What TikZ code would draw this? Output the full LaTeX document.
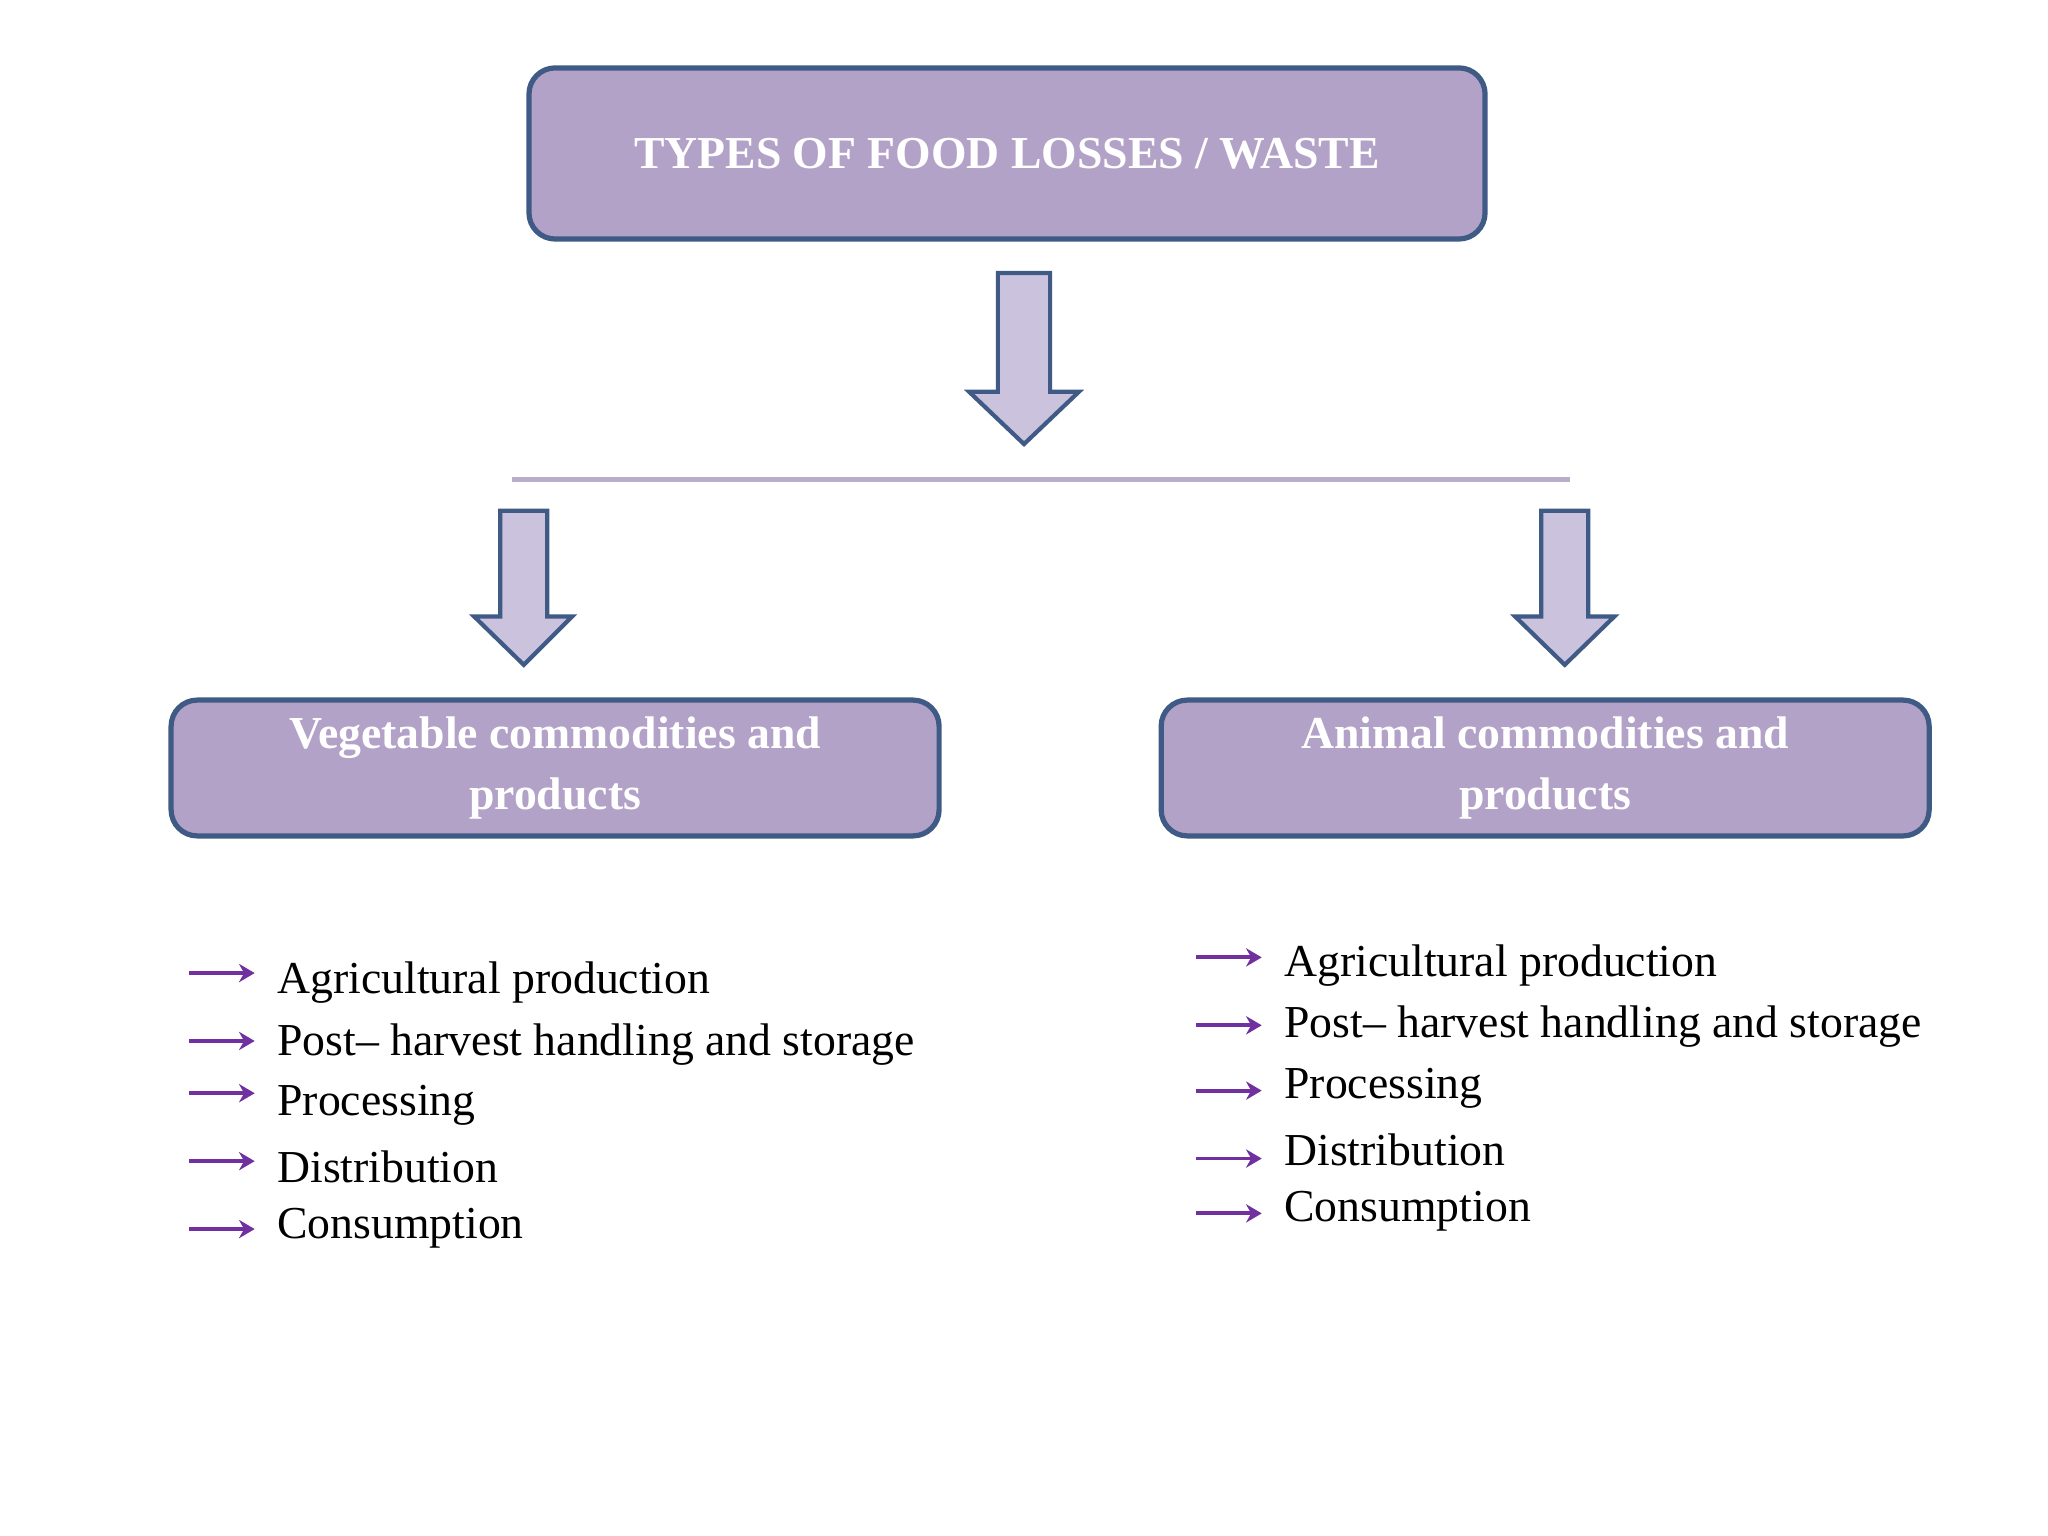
\documentclass[tikz,border=0pt]{standalone}
\usepackage{fontspec}
\setmainfont{Liberation Serif}
\usetikzlibrary{arrows.meta}
\definecolor{boxfill}{HTML}{B3A2C8}
\definecolor{navy}{HTML}{3F5A85}
\definecolor{arrfill}{HTML}{CBC3DD}
\definecolor{linec}{HTML}{B8ADCB}
\definecolor{purp}{HTML}{7030A0}
\tikzset{
  box/.style={draw=navy,line width=2pt,fill=boxfill,rounded corners=10pt,text=white,font=\fontsize{17.5}{23}\selectfont\bfseries,align=center},
  blockarr/.style={draw=navy,line width=1.6pt,fill=arrfill,line join=miter},
  item/.style={anchor=west,font=\fontsize{17.5}{20}\selectfont,inner sep=0pt},
  tick/.style={draw=purp,line width=1.5pt,-{Stealth[length=6pt,width=7pt]}}
}
\begin{document}
\begin{tikzpicture}[x=0.5pt,y=-0.5pt]
\useasboundingbox (0,0) rectangle (1568,1176);
\node[box,minimum width=366pt,minimum height=65.5pt] (title) at (771,117.5) {TYPES OF FOOD LOSSES / WASTE};
\draw[blockarr] (764,209) -- (804,209) -- (804,300) -- (826,300) -- (784,340) -- (742,300) -- (764,300) -- cycle;
\draw[linec,line width=2pt] (392,367) -- (1202,367);
\draw[blockarr] (383,391) -- (419,391) -- (419,472) -- (438,472) -- (401,509) -- (363,472) -- (383,472) -- cycle;
\draw[blockarr] (1180,391) -- (1216,391) -- (1216,472) -- (1236,472) -- (1198,509) -- (1160,472) -- (1180,472) -- cycle;
\node[box,minimum width=294pt,minimum height=52pt] (veg) at (425,588) {Vegetable commodities and\\products};
\node[box,minimum width=294pt,minimum height=52pt] (ani) at (1183,588) {Animal commodities and\\products};
\foreach \ay/\ty/\t [count=\i] in {745/752/Agricultural production,797/800/Post-- harvest handling and storage,837/846/Processing,889/893/Distribution,941/940/Consumption}{
  \coordinate (la\i) at (145,\ay); \coordinate (lb\i) at (195,\ay);
  \draw[tick] (la\i) -- (lb\i);
  \node[item] (lt\i) at (212,\ty) {\t};
}
\foreach \ay/\ty/\t [count=\i] in {733/739/Agricultural production,785/786/Post-- harvest handling and storage,835/833/Processing,887/880/Distribution,929/927/Consumption}{
  \coordinate (ra\i) at (916,\ay); \coordinate (rb\i) at (966,\ay);
  \draw[tick] (ra\i) -- (rb\i);
  \node[item] (rt\i) at (983,\ty) {\t};
}
\end{tikzpicture}
\end{document}
